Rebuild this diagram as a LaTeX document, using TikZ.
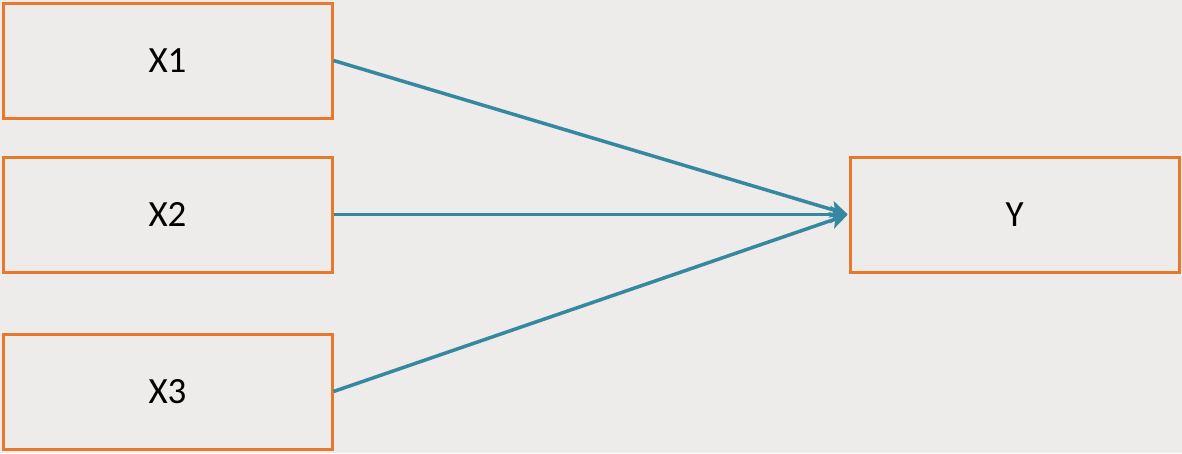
\documentclass[tikz,border=0pt]{standalone}
\usepackage{fontspec}
\setmainfont{Carlito}
\usetikzlibrary{arrows.meta}
\definecolor{bg}{HTML}{EEECEA}
\definecolor{boxline}{HTML}{E8792B}
\definecolor{arrowc}{HTML}{3488A0}
\tikzset{
  box/.style={draw=boxline, line width=3pt, fill=bg, rectangle, minimum width=329pt, minimum height=115pt, inner sep=0pt, font=\fontsize{37}{44}\selectfont},
  conn/.style={draw=arrowc, line width=3.5pt, -{Stealth[length=17pt,width=17pt,inset=4pt]}, shorten >=1pt}
}
\begin{document}
\begin{tikzpicture}[x=1pt,y=-1pt]
\fill[bg] (0,0) rectangle (1182,453);
\useasboundingbox (0,0) rectangle (1182,453);
\node[box] (x1) at (167.5,60.5) {X1};
\node[box] (x2) at (167.5,214.5) {X2};
\node[box] (x3) at (167.5,391.5) {X3};
\node[box] (y) at (1014.5,214.5) {Y};
\draw[conn] (x1.east) -- (y.west);
\draw[conn] (x2.east) -- (y.west);
\draw[conn] (x3.east) -- (y.west);
\end{tikzpicture}
\end{document}
